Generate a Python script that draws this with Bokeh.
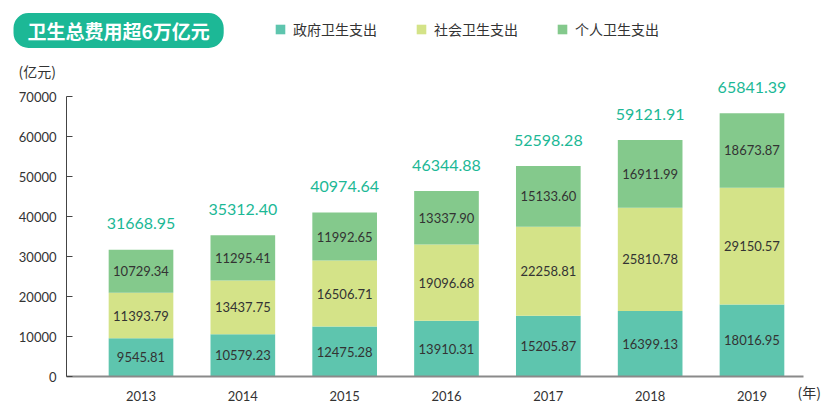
from bokeh.plotting import figure
from bokeh.models import (ColumnDataSource, Label, LabelSet, Legend, LegendItem,
                          FixedTicker, Range1d, LinearAxis)
from bokeh.core.properties import value
from bokeh.embed import file_html
from bokeh.resources import INLINE

# 卫生总费用构成（亿元）
years = [2013, 2014, 2015, 2016, 2017, 2018, 2019]
gov = [9545.81, 10579.23, 12475.28, 13910.31, 15205.87, 16399.13, 18016.95]
social = [11393.79, 13437.75, 16506.71, 19096.68, 22258.81, 25810.78, 29150.57]
personal = [10729.34, 11295.41, 11992.65, 13337.90, 15133.60, 16911.99, 18673.87]
totals = [31668.95, 35312.40, 40974.64, 46344.88, 52598.28, 59121.91, 65841.39]
series_names = ["政府卫生支出", "社会卫生支出", "个人卫生支出"]
y_ticks = [0, 10000, 20000, 30000, 40000, 50000, 60000, 70000]

W, H = 838, 410
colors = ["#5ec5ae", "#d4e388", "#84c98c"]
teal = "#1cb896"
text_dark = "#333333"
cjk = "Noto Sans CJK SC"
num_font = "Lato"

# 画布像素与数据坐标的换算：类目间距、首根柱中心、零线位置
px_per_year = 101.83
first_center_px = 140.5
px_per_unit_y = 0.004
zero_px_from_top = 376
axis_left_px, axis_right_px = 66, 803

x0 = years[0] - first_center_px / px_per_year
x1 = x0 + W / px_per_year
y0 = -(H - zero_px_from_top) / px_per_unit_y
y1 = zero_px_from_top / px_per_unit_y
ax_left = x0 + axis_left_px / px_per_year
ax_right = x0 + axis_right_px / px_per_year

src = ColumnDataSource(data=dict(
    year=years, gov=gov, social=social, personal=personal, total=totals,
    gov_mid=[g / 2 for g in gov],
    social_mid=[g + s / 2 for g, s in zip(gov, social)],
    personal_mid=[g + s + p / 2 for g, s, p in zip(gov, social, personal)],
    gov_txt=[f"{v:.2f}" for v in gov],
    social_txt=[f"{v:.2f}" for v in social],
    personal_txt=[f"{v:.2f}" for v in personal],
    total_txt=[f"{v:.2f}" for v in totals],
))

p = figure(width=W, height=H, output_backend="svg", toolbar_location=None,
           x_range=Range1d(x0, x1), y_range=Range1d(y0, y1),
           x_axis_location=None, y_axis_location=None,
           min_border=0, outline_line_color=None)
p.grid.visible = False
p.background_fill_color = "white"
p.border_fill_color = "white"

stack = p.vbar_stack(["gov", "social", "personal"], x="year", width=0.635,
                     color=colors, line_color=None, source=src)

# 各段数值
for mid, txt in [("gov_mid", "gov_txt"), ("social_mid", "social_txt"),
                 ("personal_mid", "personal_txt")]:
    p.add_layout(LabelSet(x="year", y=mid, text=txt, source=src,
                          text_align="center", text_baseline="middle",
                          text_font=value(num_font), text_font_size="13px",
                          text_color=text_dark))

# 合计
p.add_layout(LabelSet(x="year", y="total", text="total_txt", source=src,
                      y_offset=26, text_align="center", text_baseline="middle",
                      text_font=value(num_font), text_font_size="16px",
                      text_color=teal))

# 纵轴
yax = LinearAxis(fixed_location=ax_left, bounds=(y_ticks[0], y_ticks[-1]),
                 ticker=FixedTicker(ticks=y_ticks))
yax.major_tick_in = 6
yax.major_tick_out = 0
yax.minor_tick_line_color = None
yax.axis_line_color = "#444444"
yax.major_tick_line_color = "#444444"
yax.major_label_text_font = num_font
yax.major_label_text_font_size = "13px"
yax.major_label_text_color = text_dark
yax.major_label_standoff = 10
p.add_layout(yax, "left")

# 横轴
xax = LinearAxis(fixed_location=0, bounds=(ax_left, ax_right),
                 ticker=FixedTicker(ticks=years))
xax.major_tick_line_color = None
xax.minor_tick_line_color = None
xax.axis_line_color = "#8a8a8a"
xax.axis_line_width = 2
xax.major_label_text_font = num_font
xax.major_label_text_font_size = "13px"
xax.major_label_text_color = text_dark
xax.major_label_standoff = 8
p.add_layout(xax, "below")

# 单位
p.add_layout(Label(x=18, y=H - 70, x_units="screen", y_units="screen",
                   text="(亿元)", text_font=cjk, text_font_size="14px",
                   text_color=text_dark, text_baseline="middle"))
p.add_layout(Label(x=797, y=H - 391, x_units="screen", y_units="screen",
                   text="(年)", text_font=cjk, text_font_size="14px",
                   text_color=text_dark, text_baseline="middle"))

# 标题
p.add_layout(Label(x=13, y=H - 30, x_units="screen", y_units="screen",
                   text="卫生总费用超6万亿元", text_font=cjk,
                   text_font_size="19px", text_font_style="bold",
                   text_color="white", text_baseline="middle",
                   background_fill_color=teal, border_radius=15,
                   padding=(14, 4)))

# 图例
legend = Legend(items=[LegendItem(label=n, renderers=[r])
                       for n, r in zip(series_names, stack)],
                orientation="horizontal", location=(274, H - 39),
                glyph_width=12, glyph_height=12, label_standoff=7,
                spacing=38, padding=0, margin=0,
                border_line_color=None, background_fill_alpha=0,
                label_text_font=cjk, label_text_font_size="14px",
                label_text_color=text_dark, label_height=14)
p.add_layout(legend)

open("out.html", "w").write(file_html(p, INLINE))
